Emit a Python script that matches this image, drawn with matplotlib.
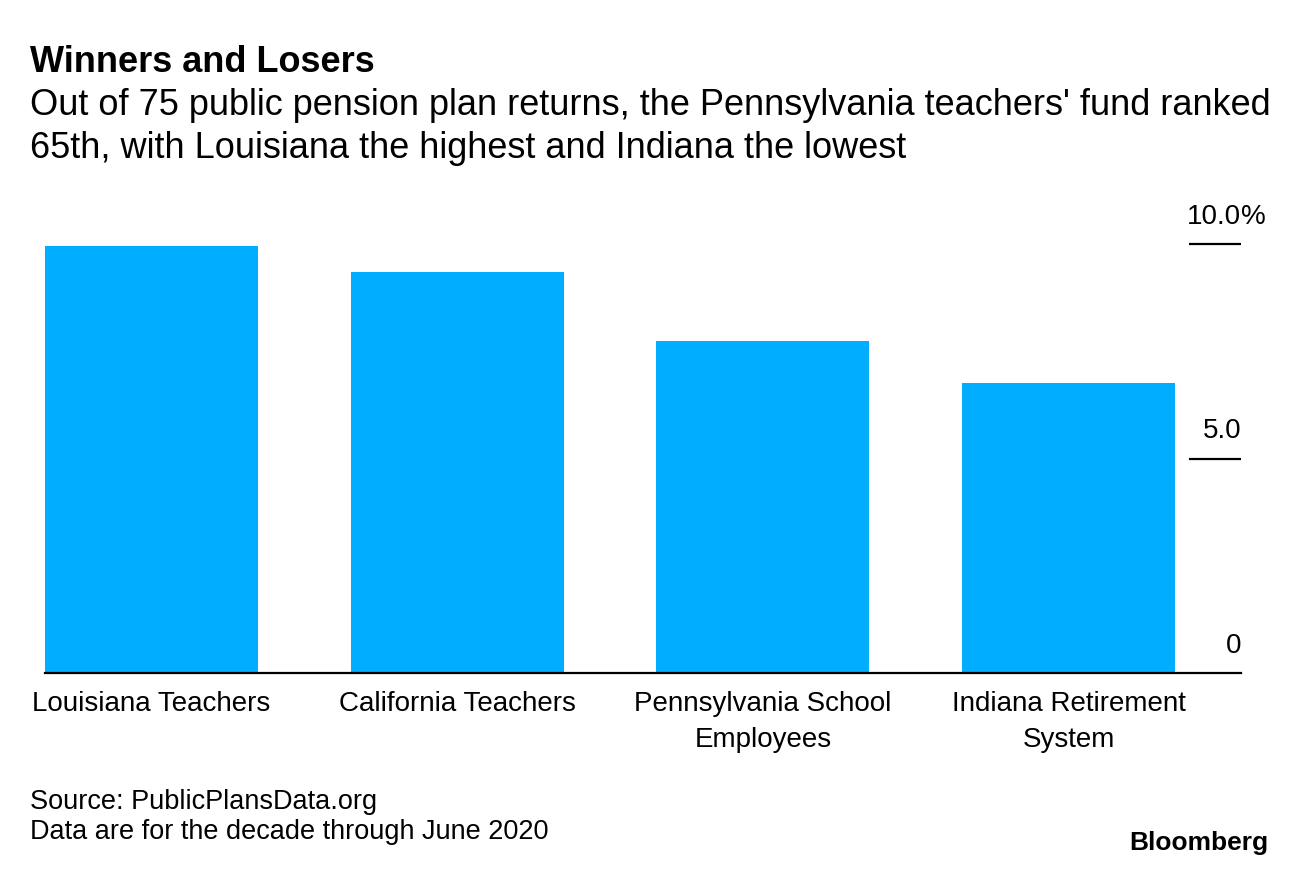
import matplotlib
matplotlib.use("Agg")
import matplotlib.pyplot as plt
from matplotlib.transforms import blended_transform_factory

plt.rcParams["font.family"] = ["Liberation Sans", "DejaVu Sans"]

categories = ["Louisiana Teachers", "California Teachers",
              "Pennsylvania School\nEmployees", "Indiana Retirement\nSystem"]
returns = [9.95, 9.35, 7.75, 6.75]
tick_values = [0, 5.0, 10.0]
tick_labels = ["0", "5.0", "10.0"]

BAR = "#00adff"

fig = plt.figure(figsize=(12.96, 8.70), dpi=100)
ax = fig.add_axes([45 / 1296, 1 - 674 / 870, 1196 / 1296, 429 / 870])

x = list(range(len(categories)))
ax.bar(x, returns, width=0.697, color=BAR, zorder=2)
ax.set_xlim(-0.3485, 3.564)
ax.set_ylim(0, 10)

for s in ["top", "right", "left"]:
    ax.spines[s].set_visible(False)
ax.spines["bottom"].set_linewidth(1.6)
ax.spines["bottom"].set_color("black")
ax.spines["bottom"].set_zorder(3)
ax.set_yticks([])
ax.set_xticks(x)
ax.set_xticklabels(categories, fontsize=20, linespacing=1.5)
ax.tick_params(axis="x", length=0, pad=12)

# custom right-side ticks, numbers right-aligned, % hangs past the tick
tr = blended_transform_factory(ax.transAxes, ax.transData)
for v, lab in zip(tick_values, tick_labels):
    if v > 0:
        ax.plot([0.9565, 1.0], [v, v], color="black", lw=1.6, transform=tr,
                clip_on=False, solid_capstyle="butt")
    ax.text(1.0, v + 0.36, lab, transform=tr, ha="right", va="bottom",
            fontsize=20)
ax.text(1.0, tick_values[-1] + 0.36, "%", transform=tr, ha="left",
        va="bottom", fontsize=20)

fig.text(30 / 1296, 1 - 63 / 870, "Winners and Losers", fontsize=26,
         fontweight="bold", va="center", ha="left")
fig.text(30 / 1296, 1 - 127 / 870,
         "Out of 75 public pension plan returns, the Pennsylvania teachers' fund ranked\n"
         "65th, with Louisiana the highest and Indiana the lowest",
         fontsize=26, va="center", ha="left", linespacing=1.27)
fig.text(30 / 1296, 1 - 817 / 870,
         "Source: PublicPlansData.org\nData are for the decade through June 2020",
         fontsize=19.5, va="center", ha="left", linespacing=1.2)
fig.text(1268 / 1296, 1 - 843 / 870, "Bloomberg", fontsize=19,
         fontweight="bold", va="center", ha="right")

fig.savefig("out.png", dpi=100)
